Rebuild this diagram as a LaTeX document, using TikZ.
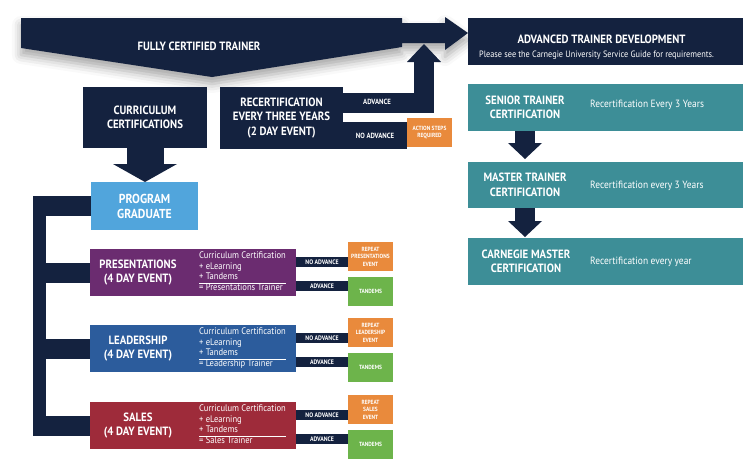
\documentclass[tikz,border=0pt]{standalone}
\usepackage{fontspec}
\setmainfont[FakeStretch=0.9]{PT Sans}
\usetikzlibrary{arrows.meta, positioning, calc, shadows.blur}
\definecolor{trnavy}{HTML}{14223F}
\definecolor{trsky}{HTML}{51A5DC}
\definecolor{trpurple}{HTML}{6B2C70}
\definecolor{trblue}{HTML}{2C5C9C}
\definecolor{trred}{HTML}{9E2B3A}
\definecolor{trorange}{HTML}{E98A3C}
\definecolor{trgreen}{HTML}{6DB44B}
\definecolor{trteal}{HTML}{3D8E97}

\begin{document}
\begin{tikzpicture}[x=1pt, y=-1pt,
    box/.style={rectangle, fill=#1, inner sep=0pt, outer sep=0pt, text=white, align=center},
    head/.style={text=white, align=center, inner sep=0pt, font=\fontsize{12}{14.5}\selectfont\bfseries},
    body/.style={text=white, align=left, inner sep=0pt, font=\fontsize{9.5}{10.7}\selectfont},
    band/.style={box=trnavy, minimum width=52pt, minimum height=10pt, font=\fontsize{6.5}{7}\selectfont\bfseries},
    catbox/.style={box=#1, minimum width=206pt, minimum height=47pt, anchor=north west},
    outbox/.style={box=#1, minimum width=45pt, minimum height=29pt, anchor=north west,
                   font=\fontsize{6}{7.5}\selectfont\bfseries},
    levelbox/.style={box=trteal, minimum width=275pt, minimum height=47pt, anchor=north west},
    fat/.style={draw=trnavy, line width=#1},
]
\useasboundingbox (0,0) rectangle (744,459);

% top arrow
\fill[trnavy, blur shadow={shadow xshift=0pt, shadow yshift=-7pt, shadow blur radius=9pt, shadow opacity=35}]
    (21,18) -- (402,18) -- (402,23) -- (445,23) -- (445,17) -- (468,33) -- (445,50)
    -- (445,43) -- (402,43) -- (402,47) -- (212,77) -- (21,48) -- cycle;
\node[head] (fct) at (199,46) {FULLY CERTIFIED TRAINER};
\coordinate (fctjoin) at (424,44);

\node[box=trnavy, minimum width=124pt, minimum height=61pt, anchor=north west, head] (curr) at (83,87) {CURRICULUM\\CERTIFICATIONS};
\node[box=trnavy, minimum width=123pt, minimum height=62pt, anchor=north west, head] (recert) at (220,87) {RECERTIFICATION\\EVERY THREE YEARS\\(2 DAY EVENT)};

\draw[fat=20pt, -{Triangle[width=34pt, length=18pt, line width=0pt]}] ($(recert.north east)+(0,15.5)$) -| (fctjoin);
\node[band, fill=none, font=\fontsize{7.5}{8}\selectfont\bfseries] (recadv) at ($(recert.north east)+(34,15)$) {ADVANCE};
\node[band, minimum width=64pt, minimum height=27pt, anchor=north west, font=\fontsize{7.5}{8}\selectfont\bfseries] (recno) at ($(recert.north east)+(0,35)$) {NO ADVANCE};
\node[outbox=trorange] (action) at (recno.north east) [yshift=4pt] {ACTION STEPS\\REQUIRED};

\node[box=trsky, minimum width=107pt, minimum height=48pt, anchor=north west, head, font=\fontsize{13}{15}\selectfont\bfseries] (prog) at (91,182) {PROGRAM\\GRADUATE};
\draw[fat=37pt, -{Triangle[width=64pt, length=18pt, line width=0pt]}] (curr.south) -- (curr.south |- prog.north);

% categories
\node[catbox=trpurple] (pres)  at (90,249) {};
\node[catbox=trblue]   (lead)  at (90,325) {};
\node[catbox=trred]    (sales) at (90,402) {};

\node[head] (prestitle) at ($(pres.west)+(48,0)$)  {PRESENTATIONS\\(4 DAY EVENT)};
\node[head] (leadtitle) at ($(lead.west)+(48,0)$)  {LEADERSHIP\\(4 DAY EVENT)};
\node[head] (salestitle) at ($(sales.west)+(48,0)$) {SALES\\(4 DAY EVENT)};

\node[body, anchor=west] (presbody) at ($(pres.west)+(109,0)$)
    {\begin{tabular}{@{}l@{}}Curriculum Certification\\+ eLearning\\+ Tandems\\\hline = Presentations Trainer\end{tabular}};
\node[body, anchor=west] (leadbody) at ($(lead.west)+(109,0)$)
    {\begin{tabular}{@{}l@{}}Curriculum Certification\\+ eLearning\\+ Tandems\\\hline = Leadership Trainer\end{tabular}};
\node[body, anchor=west] (salesbody) at ($(sales.west)+(109,0)$)
    {\begin{tabular}{@{}l@{}}Curriculum Certification\\+ eLearning\\+ Tandems\\\hline = Sales Trainer\end{tabular}};

\node[band, anchor=north west] (presno)  at ($(pres.north east)+(0,8)$)  {NO ADVANCE};
\node[band, anchor=north west] (presadv) at ($(pres.north east)+(0,32)$) {ADVANCE};
\node[outbox=trorange] (presrep) at ($(pres.north east)+(52,-7)$) {REPEAT\\PRESENTATIONS\\EVENT};
\node[outbox=trgreen]  (prestan) at ($(pres.north east)+(52,28)$) {TANDEMS};

\node[band, anchor=north west] (leadno)  at ($(lead.north east)+(0,8)$)  {NO ADVANCE};
\node[band, anchor=north west] (leadadv) at ($(lead.north east)+(0,32)$) {ADVANCE};
\node[outbox=trorange] (leadrep) at ($(lead.north east)+(52,-7)$) {REPEAT\\LEADERSHIP\\EVENT};
\node[outbox=trgreen]  (leadtan) at ($(lead.north east)+(52,28)$) {TANDEMS};

\node[band, anchor=north west] (salesno)  at ($(sales.north east)+(0,8)$)  {NO ADVANCE};
\node[band, anchor=north west] (salesadv) at ($(sales.north east)+(0,32)$) {ADVANCE};
\node[outbox=trorange] (salesrep) at ($(sales.north east)+(52,-7)$) {REPEAT\\SALES\\EVENT};
\node[outbox=trgreen]  (salestan) at ($(sales.north east)+(52,28)$) {TANDEMS};

% bracket on the left
\coordinate (spine) at (33,0);
\coordinate (spinemid) at (39.5,0);
\draw[fat=13pt] ($(prog.west -| spinemid)+(0,-10)$) -- ($(sales.west -| spinemid)+(0,10)$);
\draw[fat=20pt] (prog.west -| spine) -- (prog.west);
\draw[fat=20pt] (pres.west -| spine) -- (pres.west);
\draw[fat=20pt] (lead.west -| spine) -- (lead.west);
\draw[fat=20pt] (sales.west -| spine) -- (sales.west);

% advanced development column
\node[box=trnavy, minimum width=275pt, minimum height=47pt, anchor=north west] (atd) at (468,18) {};
\node[head, font=\fontsize{12}{14}\selectfont\bfseries] (atdtitle) at ($(atd.center)+(-4,-2.5)$) {ADVANCED TRAINER DEVELOPMENT};
\node[body, align=center, font=\fontsize{9.2}{10}\selectfont] (atdnote) at ($(atd.center)+(-9,13.5)$) {Please see the Carnegie University Service Guide for requirements.};

\node[levelbox] (senior)   at (468,84)  {};
\node[levelbox, minimum height=46pt] (master) at (468,162) {};
\node[levelbox] (carnegie) at (468,238) {};

\node[head] (seniortitle)   at ($(senior.west)+(57,0)$)   {SENIOR TRAINER\\CERTIFICATION};
\node[head] (mastertitle)   at ($(master.west)+(57,0)$)   {MASTER TRAINER\\CERTIFICATION};
\node[head] (carnegietitle) at ($(carnegie.west)+(58,0)$) {CARNEGIE MASTER\\CERTIFICATION};

\node[body, font=\fontsize{10.5}{11}\selectfont, anchor=west] (seniorrule)   at ($(senior.west)+(122,-3)$) {Recertification Every 3 Years};
\node[body, font=\fontsize{10.5}{11}\selectfont, anchor=west] (masterrule)   at ($(master.west)+(122,1)$)  {Recertification every 3 Years};
\node[body, font=\fontsize{10.5}{11}\selectfont, anchor=west] (carnegierule) at ($(carnegie.west)+(122,0)$) {Recertification every year};

\coordinate (lvlx) at (525,0);
\draw[fat=20pt, -{Triangle[width=34pt, length=16pt, line width=0pt]}, shorten >=3pt] (senior.south -| lvlx) -- (master.north -| lvlx);
\draw[fat=20pt, -{Triangle[width=34pt, length=16pt, line width=0pt]}, shorten >=1pt] (master.south -| lvlx) -- (carnegie.north -| lvlx);
\end{tikzpicture}
\end{document}
